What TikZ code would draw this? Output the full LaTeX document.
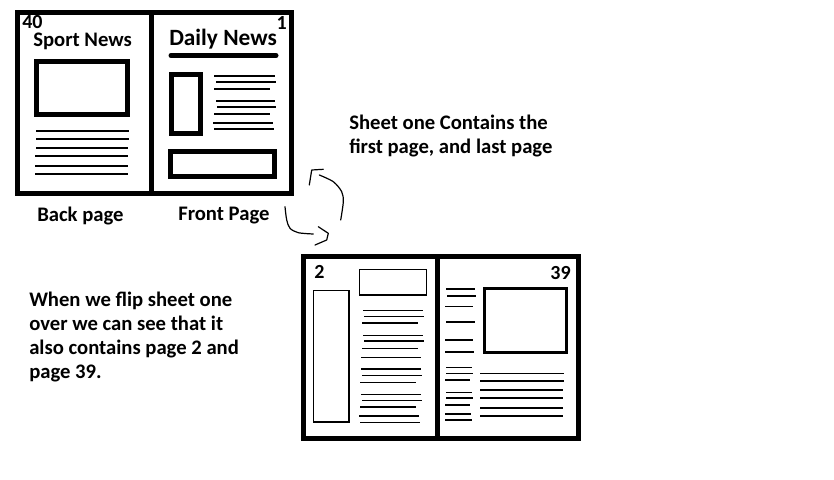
\documentclass[tikz,border=0pt]{standalone}
\usepackage{fontspec}
\setmainfont{Carlito}
\usepackage{tikz}

\tikzset{
    sheet/.style={line width=3.75pt},
    picbox/.style={line width=3.4pt},
    thinbox/.style={line width=0.9pt},
    txtline/.style={line width=1pt},
    pen/.style={line width=0.9pt, line cap=round, line join=round},
    label/.style={inner sep=0pt, font=\fontsize{15.5}{18}\selectfont\bfseries, align=left},
    pagenum/.style={inner sep=0pt, font=\fontsize{15}{18}\selectfont\bfseries}
}

\begin{document}
\begin{tikzpicture}[x=0.75pt, y=-0.75pt]
    \useasboundingbox (0,0) rectangle (834,479);
    % first sheet: back page and front page
    \draw[sheet] (17.5,12.5) rectangle (291.5,193);
    \draw[sheet] (151.5,12.5) -- (151.5,193);
    \node[pagenum, anchor=base west] (num40) at (22,28.5) {40};
    \node[label, anchor=base west] (sporttitle) at (33,46.5) {Sport News};
    \draw[picbox] (36.5,61.5) rectangle (127.5,114.5);
    \foreach \y/\a/\b in {131/36/129, 139/36/129, 148/36/128, 156/35/128, 166/35/128, 174/35/128}{
        \draw[txtline] (\a,\y) -- (\b,\y);
    }
    \node[pagenum, anchor=base east] (num1) at (287,29.5) {1};
    \node[inner sep=0pt, font=\fontsize{17.5}{20}\selectfont\bfseries, anchor=base west] (dailytitle) at (169,45.7) {Daily News};
    \draw[line width=3.75pt, line cap=round] (171,55.5) -- (276,55.5);
    \draw[picbox] (171.5,74.5) rectangle (200.5,133.5);
    \foreach \y/\a/\b in {76/214/275, 82/216/276, 89/214/270, 101/216/275, 107/217/276, 114/214/270, 123/213/273, 129/214/274}{
        \draw[txtline] (\a,\y) -- (\b,\y);
    }
    \draw[picbox] (170.5,151.5) rectangle (274.5,176.5);
    \node[label, anchor=base west] (backlbl) at (37,221.5) {Back page};
    \node[label, anchor=base west] (frontlbl) at (178,220) {Front Page};
    % flip arrows
    \draw[pen] plot[smooth] coordinates {(340.7,220) (343.3,201.7) (341.7,191.7) (333.3,181.7) (319.3,175)};
    \draw[pen] (309.3,185) -- (311.7,170) -- (323.3,169.3);
    \draw[pen] plot[smooth] coordinates {(285,206.7) (286.7,220) (290,228.3) (298.3,232.7) (313.3,234)};
    \draw[pen] (318.3,226.7) -- (328.3,233.3) -- (326.7,240) -- (315,245);
    % base of a multi-line node is its last line
    \node[label, anchor=base west] (sheetnote) at (349,153.5) {Sheet one Contains the\\first page, and last page};
    \node[label, anchor=base west] (flipnote) at (29,378) {When we flip sheet one\\over we can see that it\\also contains page 2 and\\page 39.};
    % second side: page 2 and page 39
    \draw[sheet] (303.5,256.5) rectangle (578,438);
    \draw[sheet] (437.5,256.5) -- (437.5,438);
    \node[pagenum, anchor=base west] (num2) at (314,278) {2};
    \draw[thinbox] (313.5,290.5) rectangle (349,422);
    \draw[thinbox] (359.5,269.5) rectangle (426.5,295);
    \foreach \y/\a/\b in {310.3/363/423, 316.3/364/424, 323/362/418, 335.3/363/423, 341/364/424, 348.3/362/418, 357.3/361/421, 369/361/421, 375.3/362/422, 382.3/360/416, 394.3/361/421, 400.3/362/422, 407/360/416, 416/359/419, 422.3/360/420}{
        \draw[txtline] (\a,\y) -- (\b,\y);
    }
    \node[pagenum, anchor=base east] (num39) at (571,279) {39};
    \draw[line width=2.5pt] (484.5,288.5) rectangle (566.5,352.5);
    \draw[line width=1.8pt] (446,288.7) -- (475,288.7);
    \foreach \y/\a/\b in {296/447/476, 306.3/445/473, 322/446/475, 340/445/473, 352/445/474, 367.3/446/472, 373.3/446/473, 380/445/470, 392.3/446/472, 398/446/473, 405/445/470, 414/445/471, 420/445/472}{
        \draw[txtline] (\a,\y) -- (\b,\y);
    }
    \foreach \y/\b in {373.3/564, 381/564, 390/563, 398/563, 408/563, 416/563}{
        \draw[txtline] (480,\y) -- (\b,\y);
    }
\end{tikzpicture}
\end{document}
